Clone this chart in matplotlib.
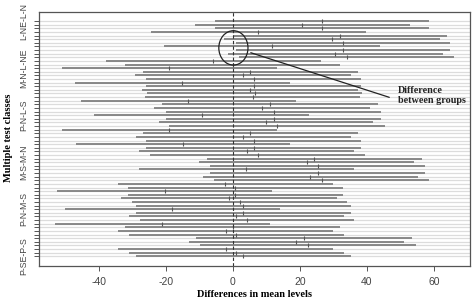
import matplotlib
matplotlib.use('Agg')
import matplotlib.pyplot as plt
from matplotlib.patches import Ellipse

# Tukey-style intervals, top row first
lwr = [-5.3, -11.3, -5.4, -24.5, 0.0, -2.6, 0.9, -20.4, 0.9, -1.5, 2.0,
       -37.9, -32.1, -51.0, -26.9, -29.2, -25.9, -47.1, -25.9, -27.0, -25.5,
       -26.2, -45.3, -21.0, -23.4, -19.9, -41.3, -19.9, -22.0, -18.9, -51.0,
       -26.9, -28.9, -25.9, -46.9, -25.9, -27.9, -24.6, -7.8, -10.0, -6.8,
       -28.1, -6.8, -9.0, -5.6, -34.2, -31.3, -52.4, -31.3, -33.3, -30.0,
       -29.0, -50.0, -29.0, -30.9, -27.8, -53.0, -32.1, -34.2, -31.0, -10.9,
       -13.0, -9.8, -34.2, -31.0, -29.0]
upr = [58.7, 52.9, 58.7, 39.7, 64.0, 61.9, 64.9, 43.8, 64.9, 62.6, 66.0,
       26.4, 32.0, 13.1, 37.5, 35.2, 38.3, 17.1, 38.3, 37.3, 38.6,
       38.0, 18.9, 43.3, 41.0, 44.3, 22.9, 44.3, 42.0, 45.3, 13.1,
       37.5, 35.2, 38.3, 17.1, 38.3, 36.3, 39.5, 56.4, 54.2, 57.4,
       36.3, 57.4, 55.3, 58.6, 29.8, 33.0, 11.8, 33.0, 31.0, 34.2,
       35.3, 14.1, 35.3, 33.2, 36.3, 11.1, 32.0, 30.0, 33.3, 53.4,
       51.1, 54.6, 30.0, 33.3, 35.3]
diff = [26.7, 20.8, 26.6, 7.6, 32.0, 29.6, 32.9, 11.7, 32.9, 30.5, 34.0,
        -5.8, 0.0, -19.0, 5.3, 3.0, 6.2, -15.0, 6.2, 5.1, 6.5,
        5.9, -13.2, 11.2, 8.8, 12.2, -9.2, 12.2, 10.0, 13.2, -19.0,
        5.3, 3.1, 6.2, -14.9, 6.2, 4.2, 7.5, 24.3, 22.1, 25.3,
        4.1, 25.3, 23.1, 26.5, -2.2, 0.8, -20.3, 0.8, -1.2, 2.1,
        3.1, -18.0, 3.1, 1.1, 4.2, -21.0, 0.0, -2.1, 1.1, 21.2,
        19.0, 22.4, -2.1, 1.1, 3.1]

tick_labels = ['L-NE-L-N', 'M-N-L-NE', 'P-N-L-S', 'M-S-M-N', 'P-N-M-S', 'P-SE-P-S']
label_rows = [0, 13, 26, 39, 52, 65]
x_ticks = [-40, -20, 0, 20, 40, 60]

n = len(lwr)
ypos = [n - 1 - i for i in range(n)]

fig = plt.figure(figsize=(4.74, 3.01), dpi=100)
ax = fig.add_axes([0.0823, 0.1173, 0.9093, 0.8438])

for y in ypos:
    ax.axhline(y, color='#dcdcdc', lw=0.9, zorder=1)
ax.hlines(ypos, lwr, upr, color='#808080', lw=1.3, zorder=2)
ax.plot(diff, ypos, '|', color='#555555', ms=2.5, mew=0.8, zorder=3)
ax.axvline(0, color='#333333', lw=0.8, ls=(0, (3, 2)), zorder=4)

ax.set_xlim(-57.8, 70.8)
ax.set_ylim(-2.6, n - 1 + 2.6)

ax.set_xticks(x_ticks)
ax.set_xticklabels([str(v) for v in x_ticks], fontfamily='Liberation Sans',
                   fontsize=7.5, color='#444444')
ax.set_yticks(ypos)
ax.set_yticklabels([''] * n)
for lab, r in zip(tick_labels, label_rows):
    ax.text(-0.026, ypos[r], lab, transform=ax.get_yaxis_transform(),
            rotation=90, ha='right', va='center', fontfamily='Liberation Sans',
            fontsize=6.3, color='#444444')
ax.tick_params(axis='both', direction='out', length=3.5, width=0.7, color='#555555')
ax.tick_params(axis='x', pad=5)
for s in ax.spines.values():
    s.set_color('#555555')
    s.set_linewidth(0.9)

ax.set_xlabel('Differences in mean levels', fontfamily='Liberation Serif',
              fontweight='bold', fontsize=7.5, labelpad=2)
fig.text(9 / 474, 1 - 138 / 301, 'Multiple test classes', rotation=90,
         ha='center', va='center', fontfamily='Liberation Serif',
         fontweight='bold', fontsize=7.5)

# annotation
ell = Ellipse((0.2, 57.6), 8.7, 9.5, fill=False, ec='#222222', lw=0.9, zorder=5)
ax.add_patch(ell)
ax.annotate('', xy=(47.5, 43.7), xytext=(4.6, 56.5),
            arrowprops=dict(arrowstyle='-', color='#222222', lw=0.9))
ax.text(49.3, 47.0, 'Difference\nbetween groups', fontfamily='Liberation Serif',
        fontweight='bold', fontsize=7.3, color='#222222', va='top', ha='left',
        linespacing=1.1)

fig.savefig('out.png', dpi=100)
